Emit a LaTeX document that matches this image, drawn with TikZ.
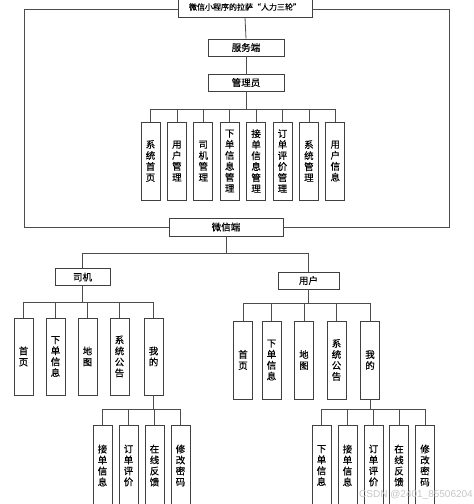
\documentclass[tikz,border=0pt]{standalone}
\usepackage{fontspec}
\setmainfont{Noto Sans CJK SC}[FakeBold=0.4]
\newfontfamily\wmfont{Liberation Sans}
\tikzset{
  box/.style={draw=black!75, line width=0.8pt, fill=white, inner sep=0pt, align=center,
    font=\fontsize{9.5}{11}\selectfont, text=black},
  hbox/.style={box, minimum height=17pt},
  vbox/.style={box, minimum width=19pt},
  link/.style={draw=black!70, line width=0.8pt},
}
\begin{document}
\begin{tikzpicture}[x=1pt,y=-1pt]
\clip (0,0) rectangle (474,504);
\fill[white] (0,0) rectangle (474,504);
% bus levels
\coordinate (b0) at (0,109);
\coordinate (b1) at (0,253);
\coordinate (b2) at (0,302);
\coordinate (b3) at (0,303);
\coordinate (b4) at (0,409);
\coordinate (b5) at (0,409);
% top
\node[hbox, minimum width=134pt, minimum height=20pt, font=\fontsize{8}{9}\selectfont] (title) at (245,7) {\raisebox{-2pt}{微信小程序的拉萨“人力三轮”}};
\node[hbox, minimum width=76pt] (fw) at (246,47.5) {服务端};
\node[hbox, minimum width=76pt] (adm) at (246,82.5) {管理员};
\node[hbox, minimum width=114pt, minimum height=18pt] (wx) at (226,227) {微信端};
% admin children
\foreach \n/\x/\t in {a1/150.5/系\\统\\首\\页, a2/176.9/用\\户\\管\\理, a3/203.3/司\\机\\管\\理,
  a4/229.7/下\\单\\信\\息\\管\\理, a5/256.1/接\\单\\信\\息\\管\\理, a6/282.5/订\\单\\评\\价\\管\\理,
  a7/308.9/系\\统\\管\\理, a8/335.3/用\\户\\信\\息}{
  \node[vbox, minimum height=78pt] (\n) at (\x,161) {\t};
}
% frame
\draw[link] ([yshift=-2pt]title.west) -- ++(-153,0) |- (wx.west);
\draw[link] ([yshift=-2pt]title.east) -- ++(137,0) |- (wx.east);
\draw[link] (title.south) -- (fw.north);
\draw[link] (fw.south) -- (adm.north);
\foreach \n in {a1,a2,a3,a4,a5,a6,a7,a8}{
  \draw[link] (adm.south) -- (adm.south |- b0) -| (\n.north);
}
% second level
\node[hbox, minimum width=55pt, minimum height=17.5pt] (sj) at (82.5,277) {司机};
\node[hbox, minimum width=61pt] (yh) at (308.5,280.5) {用户};
\draw[link] (wx.south) -- (wx.south |- b1) -| (sj.north);
\draw[link] (wx.south) -- (wx.south |- b1) -| (yh.north);
% driver children
\foreach \n/\x/\t in {s1/23.5/首\\页, s2/55.5/下\\单\\信\\息, s3/87.5/地\\图, s4/119.5/系\\统\\公\\告, s5/153.5/我\\的}{
  \node[vbox, minimum height=77pt] (\n) at (\x,356.5) {\t};
  \draw[link] (sj.south) -- (sj.south |- b2) -| (\n.north);
}
% user children
\foreach \n/\x/\t in {u1/243/首\\页, u2/271.5/下\\单\\信\\息, u3/304/地\\图, u4/336.5/系\\统\\公\\告, u5/370/我\\的}{
  \node[vbox, minimum height=78pt] (\n) at (\x,360) {\t};
  \draw[link] (yh.south) -- (yh.south |- b3) -| (\n.north);
}
% driver mine children
\foreach \n/\x/\t in {sm1/102.5/接\\单\\信\\息, sm2/128.5/订\\单\\评\\价, sm3/154.5/在\\线\\反\\馈, sm4/180.5/修\\改\\密\\码}{
  \node[vbox, minimum height=81pt] (\n) at (\x,465.5) {\t};
  \draw[link] (s5.south) -- (s5.south |- b4) -| (\n.north);
}
% user mine children
\foreach \n/\x/\t in {um1/321.5/下\\单\\信\\息, um2/347.5/接\\单\\信\\息, um3/373.5/订\\单\\评\\价, um4/399/在\\线\\反\\馈, um5/425/修\\改\\密\\码}{
  \node[vbox, minimum height=81pt] (\n) at (\x,465.5) {\t};
  \draw[link] (u5.south) -- (u5.south |- b5) -| (\n.north);
}
% watermark
\node[anchor=east, inner sep=0pt, text=black!22, font=\wmfont\fontsize{10}{12}\selectfont] (wm) at (473,495) {CSDN @2401\_85506204};
\end{tikzpicture}
\end{document}
